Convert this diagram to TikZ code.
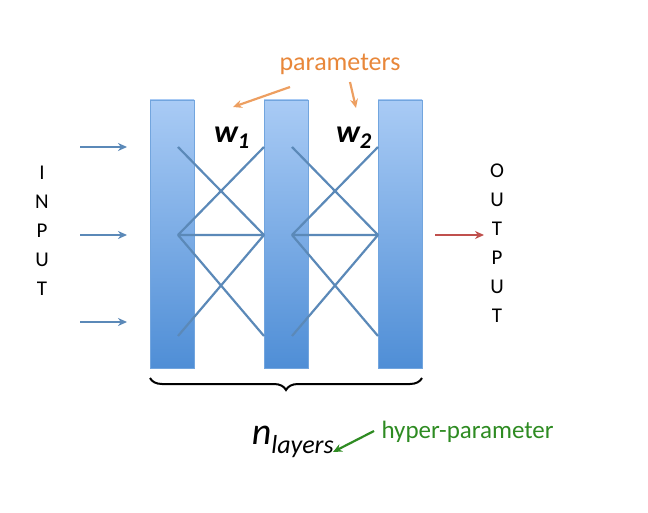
\documentclass[tikz,border=0pt]{standalone}
\usepackage{fontspec}
\setmainfont{Carlito}
\usetikzlibrary{decorations.pathreplacing,arrows.meta}
\definecolor{barTop}{HTML}{A9CBF5}
\definecolor{barBot}{HTML}{4F8ED6}
\definecolor{linkBlue}{HTML}{5B89B8}
\definecolor{paramOrange}{HTML}{E8873A}
\definecolor{hyperGreen}{HTML}{2E8B22}
\definecolor{outRed}{HTML}{C0504D}
\begin{document}
\begin{tikzpicture}[x=1pt, y=-1pt,
    bar/.style={top color=barTop, bottom color=barBot, draw=barBot!80, line width=0.4pt},
    link/.style={draw=linkBlue, line width=2.2pt},
    arr/.style={-{Stealth[length=9pt,width=8pt]}, line width=2.2pt},
    letters/.style={font=\fontsize{21}{29}\selectfont, align=center}
]
\useasboundingbox (0,0) rectangle (648,513);

% Layers
\foreach \name/\xl in {barA/150, barB/264, barC/378}
  \path[bar] (\xl,100) rectangle ++(44,268);

% Connections between layers
\foreach \xa/\xb in {178/264, 292/378} {
  \coordinate (t1) at (\xa,147); \coordinate (m1) at (\xa,235); \coordinate (b1) at (\xa,336);
  \coordinate (t2) at (\xb,147); \coordinate (m2) at (\xb,235); \coordinate (b2) at (\xb,336);
  \draw[link] (t1) -- (m2) (m1) -- (t2) (m1) -- (m2) (m1) -- (b2) (b1) -- (m2);
}

% Weights
\node[font=\fontsize{32}{32}\selectfont\itshape\bfseries] (w1) at (232,138) {w\textsubscript{1}};
\node[font=\fontsize{32}{32}\selectfont\itshape\bfseries] (w2) at (354,138) {w\textsubscript{2}};

% Parameters label
\node[text=paramOrange, font=\fontsize{26}{26}\selectfont] (params) at (340,64) {parameters};
\coordinate (ps) at (290,87); \coordinate (pa) at (233,107);
\coordinate (qs) at (350,82); \coordinate (pb) at (356,108);
\draw[arr, paramOrange!80] (ps) -- (pa);
\draw[arr, paramOrange!80] (qs) -- (pb);

% Input
\node[letters] (input) at (42,231) {I\\N\\P\\U\\T};
\foreach \y in {147,235,322} {
  \coordinate (is) at (80,\y); \coordinate (ie) at (127,\y);
  \draw[arr, linkBlue] (is) -- (ie);
}

% Output
\node[letters] (output) at (497,243) {O\\U\\T\\P\\U\\T};
\coordinate (os) at (435,235); \coordinate (oe) at (484,235);
\draw[arr, outRed] (os) -- (oe);

% Brace
\coordinate (bl) at (150,378); \coordinate (br) at (422,378);
\draw[decorate, decoration={brace, amplitude=12pt}, line width=2pt] (br) -- (bl);

% Number of layers
\node[font=\fontsize{38}{38}\selectfont\itshape] (nl) at (293,442) {n\textsubscript{\fontsize{26}{26}\selectfont layers}};
\node[text=hyperGreen, font=\fontsize{25}{25}\selectfont, anchor=west] (hyper) at (378,432) {hyper-parameter};
\coordinate (hs) at (374,431); \coordinate (he) at (333,452);
\draw[arr, hyperGreen] (hs) -- (he);
\end{tikzpicture}
\end{document}
